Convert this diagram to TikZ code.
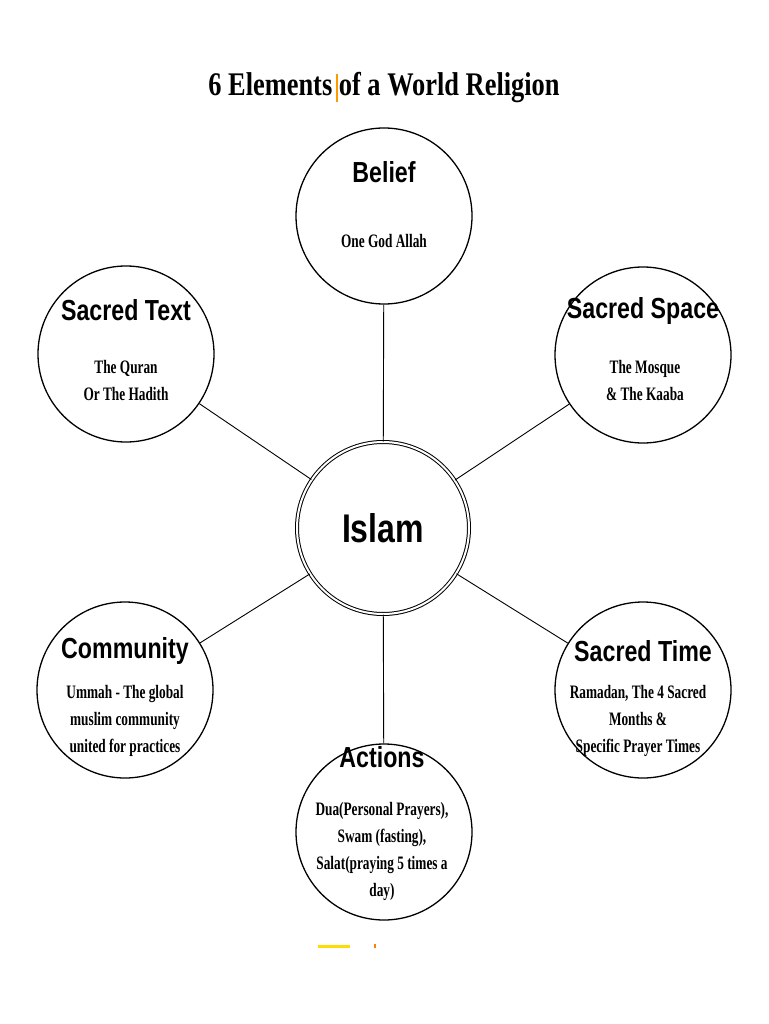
\documentclass[tikz,border=0pt]{standalone}
\usepackage{fontspec}
\setmainfont{Liberation Serif}
\setsansfont{Liberation Sans}
\usetikzlibrary{positioning}
\begin{document}
\begin{tikzpicture}[x=1pt,y=-1pt,
    element/.style = {circle, draw, line width=1.3pt, minimum size=176pt, inner sep=0pt},
    hubnode/.style = {circle, draw, line width=1pt, double, double distance=2pt, minimum size=172pt},
    head/.style    = {font=\sffamily\bfseries\fontsize{29}{32}\selectfont, xscale=0.8},
    body/.style    = {font=\bfseries\fontsize{19}{27}\selectfont, xscale=0.7, align=center},
]
    \useasboundingbox (0,0) rectangle (768,1024);
    %Title
    \node[font=\bfseries\fontsize{33}{36}\selectfont, xscale=0.8] (title) at (384,88) {6 Elements of a World Religion};
    \fill[orange!80!yellow] (336,74) rectangle (338,102);

    %Circles
    \node[hubnode] (islam) at (383,528) {};
    \node[element] (belief) at (384,216) {};
    \node[element] (text)   at (126,354) {};
    \node[element] (space)  at (643,355) {};
    \node[element] (comm)   at (125,690) {};
    \node[element] (time)   at (643,690) {};
    \node[element] (act)    at (384,832) {};

    %Labels
    \node[head, font=\sffamily\bfseries\fontsize{40}{44}\selectfont] (islamlab) at (383,528) {Islam};
    \node[head] (belieflab) at (384,172) {Belief};
    \node[body] (beliefbody) at (384,241) {One God Allah};
    \node[head] (textlab) at (126,310) {Sacred Text};
    \node[body] (textbody) at (126,380) {The Quran\\Or The Hadith};
    \node[head] (spacelab) at (643,311) {Sacred Space};
    \node[body] (spacebody) at (645,380) {The Mosque\\\& The Kaaba};
    \node[head] (commlab) at (125,651) {Community};
    \node[body] (commbody) at (125,721) {Ummah - The global\\muslim community\\united for practices};
    \node[head] (timelab) at (643,651) {Sacred Time};
    \node[body] (timebody) at (638,721) {Ramadan, The 4 Sacred\\Months \&\\Specific Prayer Times};
    \node[head] (actlab) at (382,757) {Actions};
    \node[body] (actbody) at (382,851) {Dua(Personal Prayers),\\Swam (fasting),\\Salat(praying 5 times a\\day)};

    %Lines
    \foreach \n in {belief,text,space,comm,time,act}
        \draw[line width=0.9pt] (islam) -- (\n);

    %Marks
    \fill[yellow!80!orange] (318,945) rectangle (350,948);
    \fill[orange] (374,944) rectangle (376,948);
\end{tikzpicture}
\end{document}
